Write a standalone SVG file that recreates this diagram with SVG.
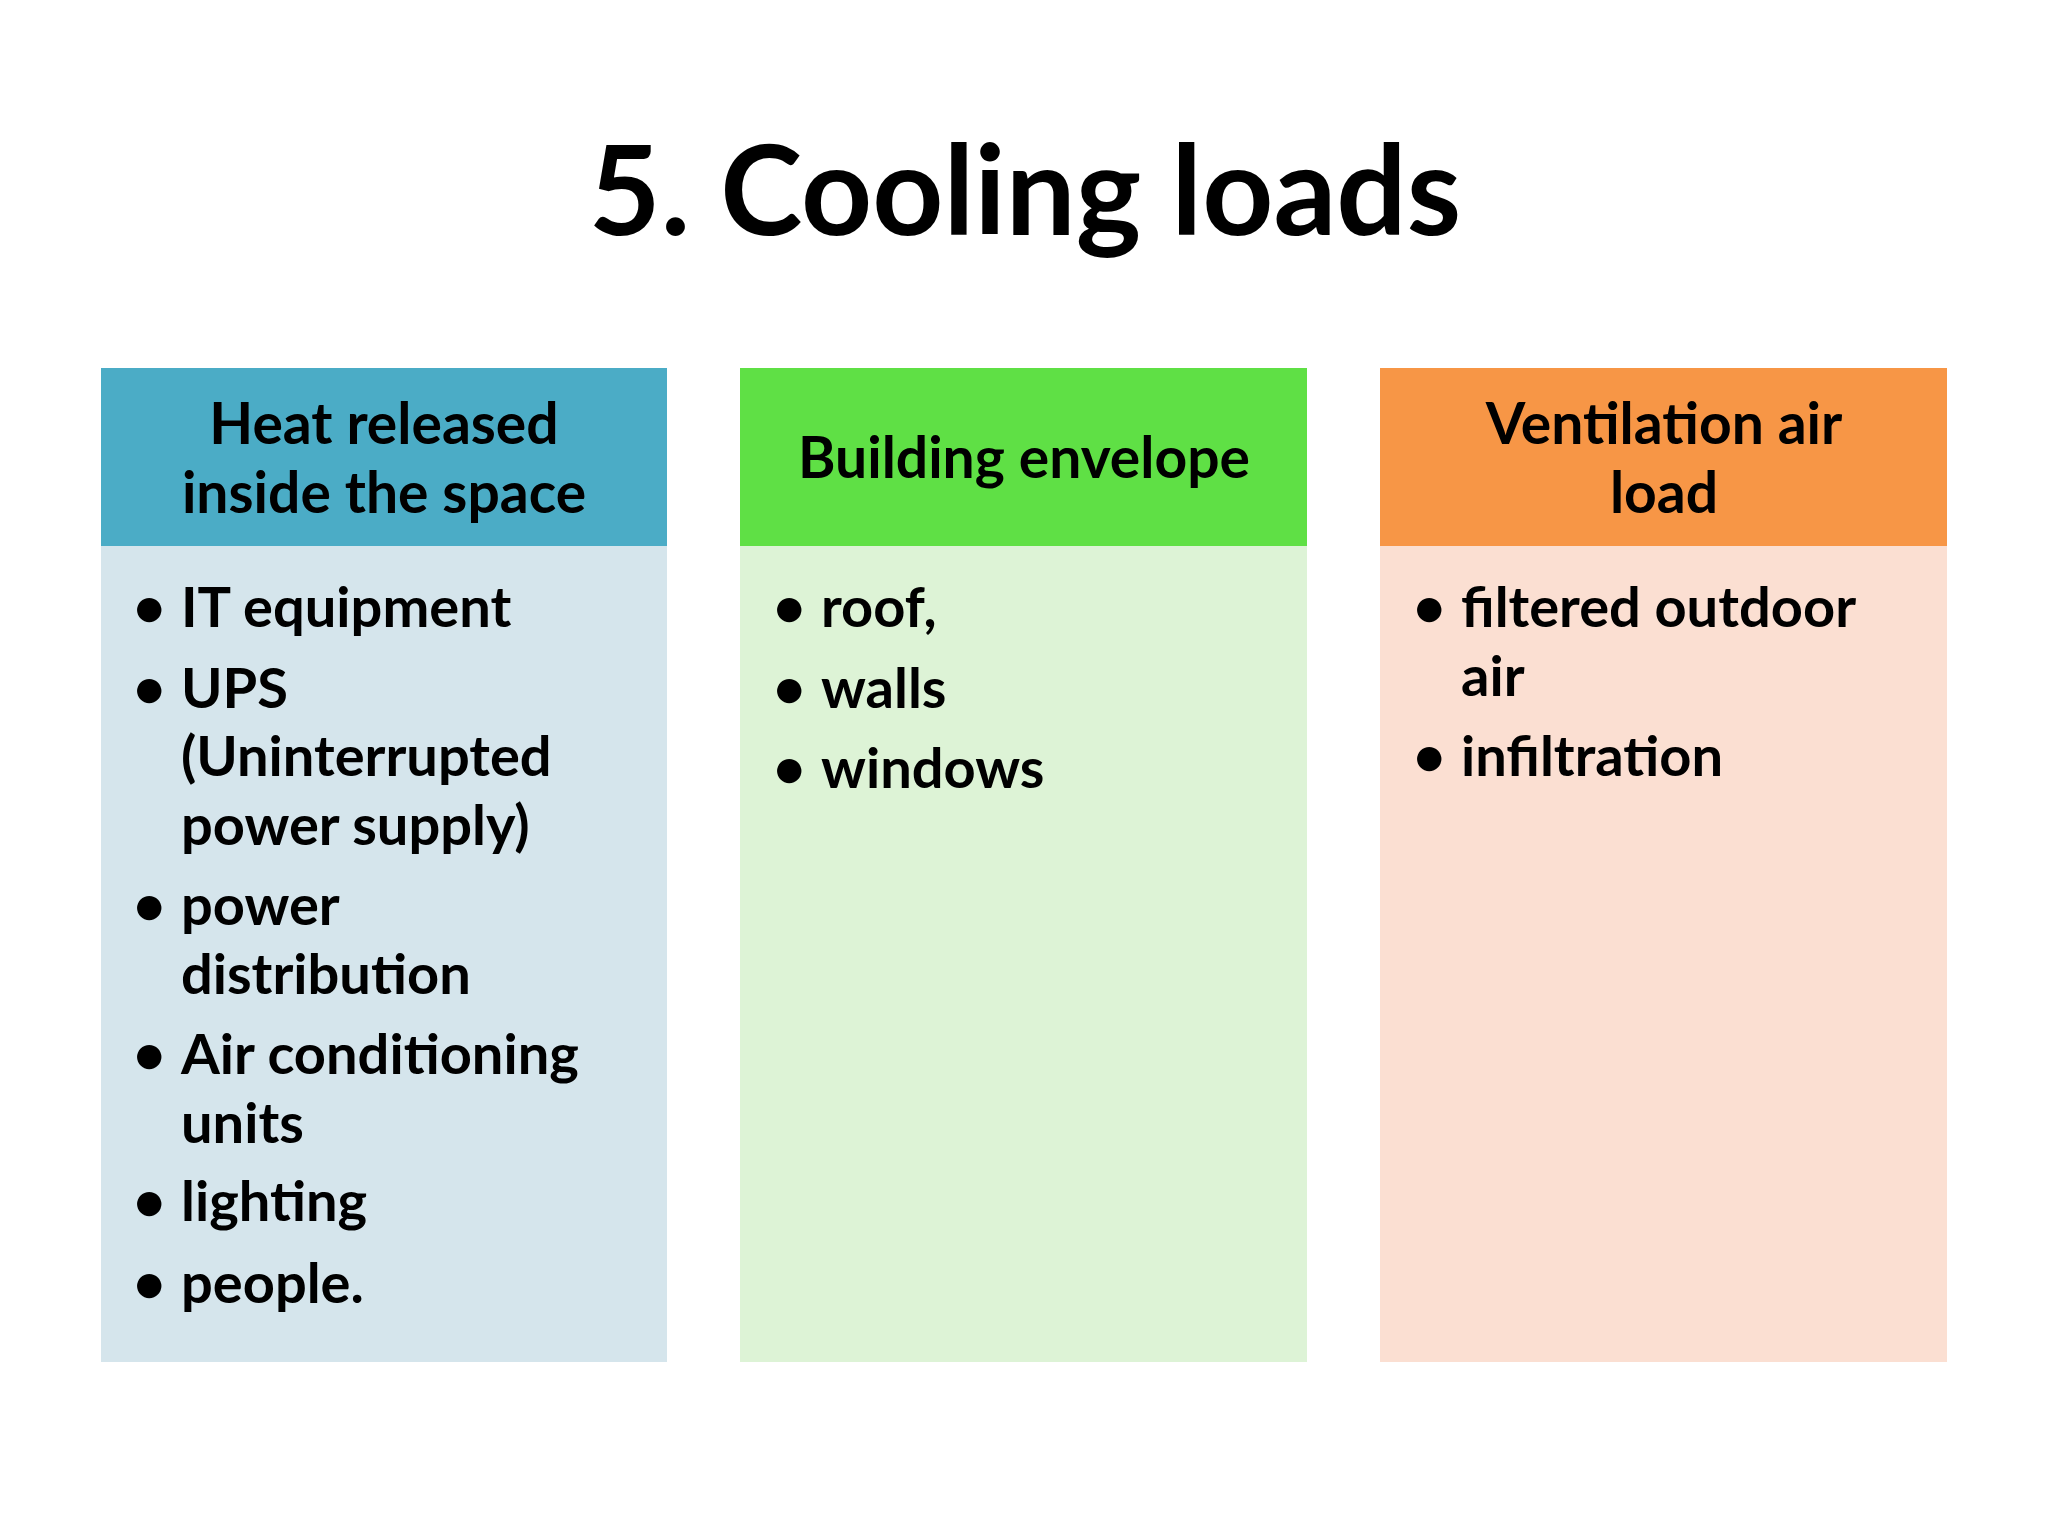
<svg xmlns="http://www.w3.org/2000/svg" width="2048" height="1536" viewBox="0 0 2048 1536">
<style>
text{font-family:Lato,"Open Sans","Liberation Sans",sans-serif;font-weight:bold;fill:#000}
.h{font-size:57px;text-anchor:middle}
.b{font-size:56px}
</style>
<rect width="2048" height="1536" fill="#fff"/>
<text x="1025" y="235" style="font-size:124px" text-anchor="middle">5. Cooling loads</text>
<g id="col1">
<rect x="101" y="368" width="566" height="178" fill="#4bacc6"/>
<rect x="101" y="546" width="566" height="816" fill="#d5e5ec"/>
<text class="h" x="384" y="444">Heat released</text>
<text class="h" x="384" y="513">inside the space</text>
<g class="b">
<text class="b" x="133" y="627">•</text><text class="b" x="181" y="627">IT equipment</text>
<text class="b" x="133" y="708">•</text><text class="b" x="181" y="708">UPS</text>
<text class="b" x="181" y="776">(Uninterrupted</text>
<text class="b" x="181" y="845">power supply)</text>
<text class="b" x="133" y="925">•</text><text class="b" x="181" y="925">power</text>
<text class="b" x="181" y="994">distribution</text>
<text class="b" x="133" y="1074">•</text><text class="b" x="181" y="1074">Air conditioning</text>
<text class="b" x="181" y="1143">units</text>
<text class="b" x="133" y="1221">•</text><text class="b" x="181" y="1221">lighting</text>
<text class="b" x="133" y="1303">•</text><text class="b" x="181" y="1303">people.</text>
</g>
</g>
<g id="col2">
<rect x="740" y="368" width="567" height="178" fill="#5fe045"/>
<rect x="740" y="546" width="567" height="816" fill="#ddf3d6"/>
<text class="h" x="1024" y="478">Building envelope</text>
<text class="b" x="773" y="627">•</text><text class="b" x="821" y="627">roof,</text>
<text class="b" x="773" y="708">•</text><text class="b" x="821" y="708">walls</text>
<text class="b" x="773" y="788">•</text><text class="b" x="821" y="788">windows</text>
</g>
<g id="col3">
<rect x="1380" y="368" width="567" height="178" fill="#f79646"/>
<rect x="1380" y="546" width="567" height="816" fill="#fbdfd2"/>
<text class="h" x="1664" y="444">Ventilation air</text>
<text class="h" x="1664" y="513">load</text>
<text class="b" x="1413" y="627">•</text><text class="b" x="1461" y="627">filtered outdoor</text>
<text class="b" x="1461" y="696">air</text>
<text class="b" x="1413" y="776">•</text><text class="b" x="1461" y="776">infiltration</text>
</g>
<g id="connectors"/>
</svg>
